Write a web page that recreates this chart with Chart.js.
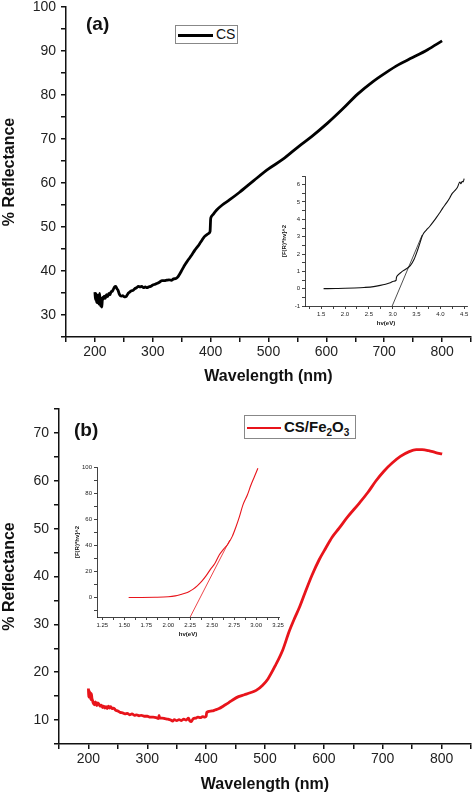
<!DOCTYPE html>
<html>
<head>
<meta charset="utf-8">
<script src="https://cdn.jsdelivr.net/npm/chart.js@4.4.0/dist/chart.umd.min.js"></script>
<style>
  body { margin: 0; background: #fff; width: 474px; height: 794px; position: relative; overflow: hidden;
         font-family: "Liberation Sans", Arial, sans-serif; }
  canvas { position: absolute; }
  .lbl { position: absolute; font-weight: bold; font-size: 19px; color: #111; line-height: 1; }
  .leg { position: absolute; border: 1px solid #888; background: #fff; font-size: 14px; color: #111;
         box-sizing: border-box; white-space: nowrap; line-height: 17px; }
  .leg i { display: inline-block; height: 3px; margin: 0 3px 0 2px; vertical-align: middle; }
  .leg .s { font-size: 10px; position: relative; top: 4px; }
</style>
</head>
<body>
<canvas id="mainA" width="474" height="400" style="left:0;top:-5px"></canvas>
<canvas id="insetA" width="199" height="165" style="left:275px;top:168px"></canvas>
<canvas id="mainB" width="474" height="399" style="left:0;top:395px"></canvas>
<canvas id="insetB" width="220" height="185" style="left:67px;top:458px"></canvas>

<div class="lbl" style="left:86px;top:14px">(a)</div>
<div class="leg" style="left:175px;top:25px;width:63px;height:19px"><i style="width:35px;background:#000"></i>CS</div>
<div class="lbl" style="left:74px;top:420px">(b)</div>
<div class="leg" style="left:244px;top:415px;width:112px;height:24px;font-weight:bold;font-size:15px;padding-top:2px"><i style="width:34px;height:2px;background:#e8141b"></i>CS/Fe<span class="s">2</span>O<span class="s">3</span></div>

<script>
// ---- panel (a): CS reflectance ----
const wlA = [200, 201, 202, 203, 204, 205, 206, 207, 208, 209, 210, 211, 212, 213, 214, 216, 218, 220, 222, 224,
  226, 228, 230, 232, 234, 236, 238, 240, 242, 244, 246, 248, 250, 252, 254, 256, 258, 260, 263, 266, 269, 272,
  275, 278, 281, 284, 287, 290, 293, 296, 300, 304, 308, 312, 316, 320, 324, 328, 332, 336, 340, 343, 346, 349,
  352, 355, 358, 361, 364, 367, 370, 373, 376, 379, 382, 385, 388, 391, 394, 397, 399, 400, 401, 404, 410, 420,
  433, 450, 475, 500, 525, 553, 575, 602, 628, 654, 680, 703, 725, 749, 775, 800];
const refA = [35.2, 33.5, 34.8, 33.0, 32.8, 34.5, 33.2, 32.5, 34.9, 33.0, 32.0, 33.8, 31.8, 34.0, 33.5, 34.3, 33.8,
  34.6, 34.2, 34.9, 34.6, 35.3, 35.4, 35.9, 36.4, 36.5, 36.0, 35.6, 34.8, 34.4, 34.3, 34.4, 34.2, 34.1, 34.2, 34.6,
  35.0, 35.2, 35.5, 35.6, 36.0, 36.2, 36.5, 36.4, 36.5, 36.2, 36.4, 36.2, 36.4, 36.5, 36.8, 37.0, 37.2, 37.5, 37.8,
  37.8, 37.9, 38.0, 37.9, 38.2, 38.3, 38.6, 39.2, 39.9, 40.6, 41.3, 41.9, 42.5, 43.0, 43.6, 44.2, 44.8, 45.3, 45.8,
  46.4, 47.0, 47.6, 48.0, 48.3, 48.6, 49.0, 51.8, 52.3, 52.8, 53.8, 55.0, 56.2, 57.9, 60.6, 63.2, 65.4, 68.4, 70.6,
  73.6, 76.8, 80.2, 83.0, 85.1, 86.9, 88.5, 90.3, 92.3];

// inset (a): Tauc plot
const hvA = [1.55, 1.8, 2.0, 2.2, 2.4, 2.6, 2.74, 2.85, 2.95, 3.02, 3.07, 3.08, 3.1, 3.15, 3.2, 3.27, 3.37, 3.45,
  3.52, 3.58, 3.61, 3.65, 3.71, 3.78, 3.85, 3.92, 3.98, 4.05, 4.13, 4.2, 4.25, 4.31, 4.36, 4.41, 4.43, 4.46, 4.48, 4.5];
const taucA = [0, 0.01, 0.02, 0.04, 0.07, 0.12, 0.19, 0.26, 0.34, 0.43, 0.47, 0.65, 0.75, 0.88, 1.0, 1.12, 1.33,
  1.7, 2.2, 2.7, 2.97, 3.2, 3.39, 3.6, 3.85, 4.11, 4.35, 4.65, 4.95, 5.25, 5.5, 5.67, 5.85, 6.15, 6.05, 6.2, 6.15, 6.35];
const fitAx = [2.99, 3.62];
const fitAy = [-1, 3.1];

// ---- panel (b): CS/Fe2O3 reflectance ----
const wlB = [200, 200.5, 201, 202, 203, 204, 205, 206, 207, 208, 210, 212, 214, 216, 218, 220, 222, 224, 226, 228,
  230, 232, 234, 236, 238, 240, 243, 246, 250, 254, 258, 262, 266, 270, 274, 278, 282, 286, 290, 295, 300, 305,
  310, 315, 319, 320, 321, 325, 330, 335, 340, 343, 346, 350, 354, 358, 362, 366, 370, 372, 375, 378, 382, 386,
  390, 394, 398, 400, 401, 405, 410, 415, 422, 430, 438, 445, 455, 465, 475, 485, 496, 505, 518, 530, 541, 550,
  558, 568, 580, 592, 603, 614, 626, 640, 660, 675, 688, 702, 716, 730, 745, 757, 767, 778, 790, 801];
const refB = [16.6, 14.8, 16.2, 15.0, 15.8, 14.3, 15.5, 14.5, 14.1, 13.6, 13.2, 13.8, 13.0, 13.6, 13.3, 12.9, 13.1,
  12.6, 12.9, 12.5, 12.8, 12.4, 12.9, 12.5, 12.8, 12.4, 12.5, 12.1, 11.9, 11.6, 11.5, 11.3, 11.4, 11.1, 11.3, 11.0,
  11.1, 10.9, 11.0, 10.8, 10.8, 10.6, 10.6, 10.5, 10.3, 11.0, 10.4, 10.4, 10.3, 10.2, 10.0, 9.8, 10.1, 9.9, 10.1,
  9.9, 10.2, 10.0, 10.4, 9.9, 9.7, 10.3, 10.4, 10.6, 10.5, 10.7, 10.6, 10.8, 11.6, 11.8, 11.9, 12.1, 12.4, 13.0,
  13.6, 14.2, 14.9, 15.3, 15.7, 16.2, 17.3, 18.6, 21.5, 24.6, 28.5, 31.2, 33.4, 36.6, 40.3, 43.5, 45.9, 48.2, 50.1,
  52.4, 55.3, 57.6, 59.9, 62.0, 63.7, 65.1, 66.1, 66.5, 66.5, 66.3, 65.9, 65.6];

// inset (b): Tauc plot
const hvB = [1.55, 1.7, 1.85, 2.0, 2.08, 2.14, 2.19, 2.24, 2.28, 2.33, 2.38, 2.43, 2.48, 2.53, 2.58, 2.63, 2.68,
  2.73, 2.77, 2.81, 2.85, 2.9, 2.94, 2.98, 3.02];
const taucB = [0, 0, 0.1, 0.5, 1.2, 2.2, 3.2, 4.6, 6.2, 8.9, 12.3, 16.5, 21.5, 26, 32.5, 37, 41, 47, 54, 62, 71,
  78.5, 86, 92.5, 99];
const fitBx = [2.25, 2.70];
const fitBy = [-15, 44];

Chart.defaults.font.family = '"Liberation Sans", Arial, sans-serif';
Chart.defaults.color = '#222';
Chart.defaults.animation = false;

const pts = (xs, ys) => xs.map((x, i) => ({ x: x, y: ys[i] }));

function labelEvery(every, digits) {
  return function (v) {
    const k = v / every;
    return Math.abs(k - Math.round(k)) < 1e-6 ? Number(v).toFixed(digits) : '';
  };
}

// s = settings for one axis
function axis(s) {
  return {
    type: 'linear',
    min: s.min,
    max: s.max,
    afterFit: s.fit,
    border: { display: true, color: '#111', width: s.line },
    grid: { drawOnChartArea: false, drawTicks: true, tickLength: s.tickLen, color: '#111', lineWidth: s.line },
    ticks: { stepSize: s.step, includeBounds: false, autoSkip: false, maxRotation: 0,
             padding: s.tickPad, font: { size: s.tickSize, lineHeight: 1 }, callback: labelEvery(s.every, s.digits) },
    title: { display: true, text: s.title, padding: s.titlePad, color: '#111',
             font: { size: s.titleSize, weight: 'bold' } }
  };
}

function lineSet(data, color, width) {
  return { data: data, borderColor: color, borderWidth: width, pointRadius: 0, fill: false,
           cubicInterpolationMode: 'monotone' };
}

function baseOptions(padding, xAxis, yAxis) {
  return {
    responsive: false,
    layout: { padding: padding },
    plugins: { legend: { display: false }, tooltip: { enabled: false } },
    scales: { x: xAxis, y: yAxis }
  };
}

// main (a)
new Chart(document.getElementById('mainA'), {
  type: 'line',
  data: { datasets: [lineSet(pts(wlA, refA), '#000', 2.8)] },
  options: baseOptions({ top: 0, right: 1, left: 0, bottom: 0 },
    axis({ min: 150, max: 850, step: 50, every: 100, digits: 0, tickSize: 14, tickLen: 5, tickPad: 3, line: 1.5,
           title: 'Wavelength (nm)', titleSize: 16, titlePad: { top: 0, bottom: 9 },
           fit: s => { s.height = 58; } }),
    axis({ min: 25, max: 100, step: 5, every: 10, digits: 0, tickSize: 14, tickLen: 5, tickPad: 5, line: 1.5,
           title: '% Reflectance', titleSize: 16, titlePad: 0,
           fit: s => { s.width = 66; } }))
});

// inset (a)
new Chart(document.getElementById('insetA'), {
  type: 'line',
  data: { datasets: [lineSet(pts(hvA, taucA), '#111', 1.1), lineSet(pts(fitAx, fitAy), '#222', 0.8)] },
  options: baseOptions({ top: 8, right: 7, left: 0, bottom: 0 },
    axis({ min: 1.16, max: 4.56, step: 0.25, every: 0.5, digits: 1, tickSize: 6, tickLen: 3, tickPad: 2, line: 0.8,
           title: 'hv(eV)', titleSize: 6, titlePad: { top: 0, bottom: 6 },
           fit: s => { s.height = 27; } }),
    axis({ min: -1, max: 6.5, step: 0.5, every: 1, digits: 0, tickSize: 6, tickLen: 3, tickPad: 2, line: 0.8,
           title: '[F(R)*hv]^2', titleSize: 6, titlePad: 6,
           fit: s => { s.width = 30; } }))
});

// main (b)
new Chart(document.getElementById('mainB'), {
  type: 'line',
  data: { datasets: [lineSet(pts(wlB, refB), '#e8141b', 2.8)] },
  options: baseOptions({ top: 14, right: 1, left: 0, bottom: 0 },
    axis({ min: 150, max: 850, step: 50, every: 100, digits: 0, tickSize: 14, tickLen: 5, tickPad: 3, line: 1.5,
           title: 'Wavelength (nm)', titleSize: 16, titlePad: { top: 0, bottom: 0 },
           fit: s => { s.height = 50; } }),
    axis({ min: 5, max: 75, step: 5, every: 10, digits: 0, tickSize: 14, tickLen: 5, tickPad: 5, line: 1.5,
           title: '% Reflectance', titleSize: 16, titlePad: 0,
           fit: s => { s.width = 59; } }))
});

// inset (b)
new Chart(document.getElementById('insetB'), {
  type: 'line',
  data: { datasets: [lineSet(pts(hvB, taucB), '#e8141b', 1.1), lineSet(pts(fitBx, fitBy), '#e8141b', 0.8)] },
  options: baseOptions({ top: 9, right: 8, left: 0, bottom: 0 },
    axis({ min: 1.19, max: 3.26, step: 0.125, every: 0.25, digits: 2, tickSize: 6, tickLen: 3, tickPad: 2, line: 0.8,
           title: 'hv(eV)', titleSize: 6, titlePad: { top: 0, bottom: 5 },
           fit: s => { s.height = 26; } }),
    axis({ min: -15, max: 100, step: 10, every: 20, digits: 0, tickSize: 6, tickLen: 3, tickPad: 2, line: 0.8,
           title: '[F(R)*hv]^2', titleSize: 6, titlePad: 7,
           fit: s => { s.width = 30; } }))
});
</script>
</body>
</html>
